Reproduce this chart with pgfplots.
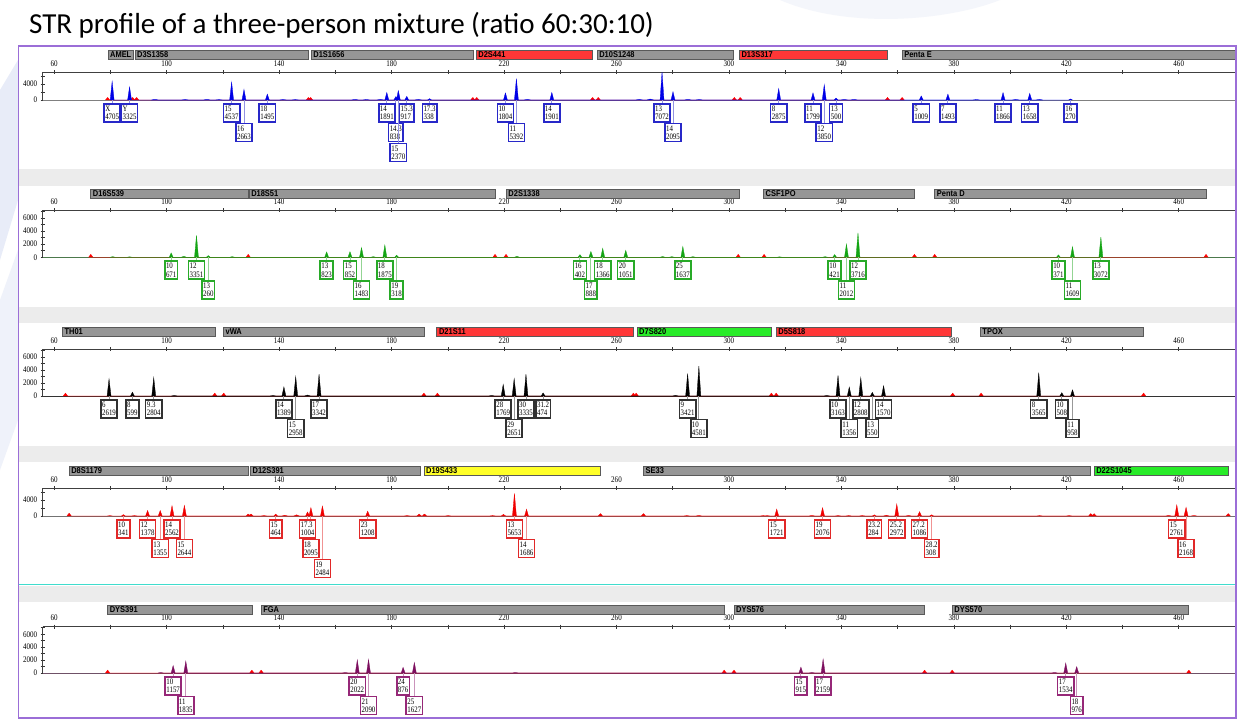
\documentclass[border=0pt]{standalone}
\usepackage{fontspec}
\usepackage{pgfplots}
\pgfplotsset{compat=1.18}
\setmainfont{Liberation Serif}
\newfontfamily\titlefont{Carlito}
\newfontfamily\smallfont{Liberation Serif}[FakeStretch=0.82]
\newfontfamily\locusfont{Liberation Sans}[FakeStretch=0.88]

\definecolor{framec}{RGB}{155,110,215}
\definecolor{stripc}{RGB}{236,236,236}
\definecolor{decoc}{RGB}{232,236,248}
\definecolor{barg}{RGB}{150,150,150}
\definecolor{barr}{RGB}{255,55,55}
\definecolor{bargr}{RGB}{40,235,40}
\definecolor{bary}{RGB}{255,255,40}
\definecolor{dblue}{RGB}{0,0,230}
\definecolor{bblue}{RGB}{40,40,200}
\definecolor{dgreen}{RGB}{20,165,20}
\definecolor{bgreen}{RGB}{40,170,40}
\definecolor{dblack}{RGB}{0,0,0}
\definecolor{bblack}{RGB}{50,50,50}
\definecolor{dred}{RGB}{240,0,0}
\definecolor{bred}{RGB}{225,40,40}
\definecolor{dpurp}{RGB}{125,15,95}
\definecolor{bpurp}{RGB}{150,40,120}
\definecolor{sizered}{RGB}{255,0,0}
\definecolor{turq}{RGB}{64,220,205}
\colorlet{bc}{bblue}

\def\bartop{0}\def\barbot{0}\def\barmid{0}
% locus bar: from, to, name, fill
\newcommand{\locus}[4]{%
  \draw[fill=#4, draw=black!65, line width=0.8pt]
    ([yshift=\bartop pt]axis cs:#1,0) rectangle ([yshift=\barbot pt]axis cs:#2,0);
  \node[anchor=west, inner sep=0pt, font=\locusfont\bfseries\fontsize{8.5}{8.5}\selectfont]
    at ([yshift=\barmid pt, xshift=2pt]axis cs:#1,0) {#3};
}
% allele label: x, drop below baseline, allele, height
\newcommand{\lb}[4]{%
  \draw[bc!50!white, line width=0.9pt] (axis cs:#1,0) -- ([yshift=-#2 pt]axis cs:#1,0);
  \node[lbox, anchor=north] at ([yshift=-#2 pt]axis cs:#1,0) {#3\\#4};
}
\tikzset{lbox/.style={draw=bc, fill=white, line width=1.6pt, inner xsep=1.2pt,
  inner ysep=1pt, align=left, minimum height=18pt,
  font=\smallfont\fontsize{8.4}{8.4}\selectfont}}

\pgfplotsset{ep/.style={
  scale only axis, width=1192.3pt, xmin=55.9, xmax=480, ymin=0,
  anchor=south west,
  axis x line=top, axis y line=left,
  axis line style={-, draw=black!75, line width=0.6pt},
  xtick={60,100,...,460}, minor xtick={80,120,...,480},
  tick align=center, major tick length=4pt, minor tick length=4pt,
  tick style={black!80, line width=0.6pt},
  ticklabel style={font=\smallfont\fontsize{8.6}{8.6}\selectfont},
  /pgf/number format/assume math mode=true,
  /pgf/number format/1000 sep={},
  scaled ticks=false, clip=false,
}}

\begin{document}
\begin{tikzpicture}
\path[use as bounding box] (0pt,0pt) rectangle (1252pt,-720pt);
\fill[white] (0pt,0pt) rectangle (1252pt,-720pt);
% faint slide decoration
\fill[decoc] (0pt,-90pt) -- (18pt,-60pt) -- (18pt,-200pt) -- (0pt,-260pt) -- cycle;
\fill[decoc!70!white] (0pt,-300pt) -- (18pt,-250pt) -- (18pt,-420pt) -- (0pt,-470pt) -- cycle;
\fill[decoc!50!white] (780pt,0pt) .. controls (850pt,-30pt) and (950pt,-20pt) .. (1000pt,0pt) -- cycle;

\node[anchor=base west, inner sep=0pt, font=\titlefont\fontsize{29}{29}\selectfont]
  at (29pt,-33pt) {STR profile of a three-person mixture (ratio 60:30:10)};

\fill[white] (18.3pt,-45.9pt) rectangle (1236pt,-718pt);
\fill[stripc] (18.3pt,-168.8pt) rectangle (1236pt,-185.8pt);
\fill[stripc] (18.3pt,-307.3pt) rectangle (1236pt,-323.4pt);
\fill[stripc] (18.3pt,-445.9pt) rectangle (1236pt,-462.4pt);
\fill[stripc] (18.3pt,-585.8pt) rectangle (1236pt,-601.8pt);
\draw[turq, line width=1pt] (18.3pt,-584.9pt) -- (1236pt,-584.9pt);

% ---------------- panel 1: blue ----------------
\colorlet{bc}{bblue}
\def\bartop{50}\def\barbot{41}\def\barmid{45.5}
\begin{axis}[ep, at={(42.7pt,-100pt)}, height=27.7pt, ymax=7000,
  ytick={0,4000}, minor ytick={2000,6000}]
\draw[black!50, line width=1pt] (axis cs:55.9,0) -- (axis cs:480,0);
\addplot[draw=sizered, fill=sizered, line width=0.3pt] coordinates {
(78.2,0)(79.0,650)(79.8,0)(87.1,0)(87.9,650)(88.7,0)(88.5,0)(89.3,650)(90.1,0)
(149.6,0)(150.4,650)(151.2,0)(150.4,0)(151.2,650)(152.0,0)
(208.1,0)(208.9,650)(209.7,0)(209.5,0)(210.3,650)(211.1,0)
(250.7,0)(251.5,650)(252.3,0)(252.7,0)(253.5,650)(254.3,0)
(301.1,0)(301.9,650)(302.7,0)(303.2,0)(304.0,650)(304.8,0)
(355.6,0)(356.4,650)(357.2,0)(360.8,0)(361.6,650)(362.4,0)};
\addplot[draw=dblue, fill=dblue, line width=0.3pt] coordinates {
(94.6,0)(95.8,150)(97.0,0)(105.3,0)(106.5,120)(107.7,0)(113.1,0)(114.3,150)(115.5,0)
(117.4,0)(118.6,100)(119.8,0)(140.2,0)(141.4,120)(142.6,0)(144.5,0)(145.7,100)(146.9,0)
(165.8,0)(167.0,150)(168.2,0)(169.8,0)(171.0,120)(172.2,0)(174.8,0)(176.0,150)(177.2,0)
(188.3,0)(189.5,150)(190.7,0)(227.1,0)(228.3,150)(229.5,0)(266.9,0)(268.1,150)(269.3,0)
(270.8,0)(272.0,250)(273.2,0)(284.2,0)(285.4,150)(286.6,0)(288.2,0)(289.4,120)(290.6,0)
(339.8,0)(341.0,150)(342.2,0)(343.3,0)(344.5,150)(345.7,0)(386.8,0)(388.0,120)(389.2,0)
(400.8,0)(402.0,150)(403.2,0)(409.2,0)(410.4,150)(411.6,0)};
\addplot[draw=dblue, fill=dblue, line width=0.3pt] coordinates {
(79.9,0)(80.6,4705)(81.3,0)(86.1,0)(86.8,3325)(87.5,0)
(122.4,0)(123.1,4537)(123.8,0)(126.8,0)(127.5,2663)(128.2,0)(135.1,0)(135.8,1495)(136.5,0)
(177.6,0)(178.3,1891)(179.0,0)(180.8,0)(181.5,838)(182.2,0)(181.7,0)(182.4,2370)(183.1,0)
(184.7,0)(185.4,917)(186.1,0)(192.8,0)(193.5,338)(194.2,0)
(219.8,0)(220.5,1804)(221.2,0)(223.7,0)(224.4,5392)(225.1,0)(236.3,0)(237.0,1901)(237.7,0)
(275.5,0)(276.2,7072)(276.9,0)(279.4,0)(280.1,2095)(280.8,0)
(317.0,0)(317.7,2875)(318.4,0)(329.2,0)(329.9,1799)(330.6,0)(333.2,0)(333.9,3850)(334.6,0)
(337.4,0)(338.1,500)(338.8,0)
(367.7,0)(368.4,1009)(369.1,0)(377.2,0)(377.9,1493)(378.6,0)(396.8,0)(397.5,1866)(398.2,0)
(406.3,0)(407.0,1658)(407.7,0)(420.8,0)(421.5,270)(422.2,0)};
\locus{79.1}{88.0}{AMEL}{barg}
\locus{88.7}{150.3}{D3S1358}{barg}
\locus{151.4}{209.0}{D1S1656}{barg}
\locus{210.1}{251.4}{D2S441}{barr}
\locus{253.1}{301.5}{D10S1248}{barg}
\locus{303.7}{356.4}{D13S317}{barr}
\locus{361.6}{480}{Penta E}{barg}
\lb{127.5}{22.7}{16}{2663}
\lb{181.5}{22.7}{14.3}{838}
\lb{182.4}{42.7}{15}{2370}
\lb{224.4}{22.7}{11}{5392}
\lb{280.1}{22.7}{14}{2095}
\lb{333.9}{22.7}{12}{3850}
\lb{80.6}{3}{X}{4705}
\lb{86.8}{3}{Y}{3325}
\lb{123.1}{3}{15}{4537}
\lb{135.8}{3}{18}{1495}
\lb{178.3}{3}{14}{1891}
\lb{185.4}{3}{15.3}{917}
\lb{193.5}{3}{17.3}{338}
\lb{220.5}{3}{10}{1804}
\lb{237.0}{3}{14}{1901}
\lb{276.2}{3}{13}{7072}
\lb{317.7}{3}{8}{2875}
\lb{329.9}{3}{11}{1799}
\lb{338.1}{3}{13}{500}
\lb{368.4}{3}{5}{1009}
\lb{377.9}{3}{7}{1493}
\lb{397.5}{3}{11}{1866}
\lb{407.0}{3}{13}{1658}
\lb{421.5}{3}{16}{270}
\end{axis}

% ---------------- panel 2: green ----------------
\colorlet{bc}{bgreen}
\def\bartop{68.3}\def\barbot{59.3}\def\barmid{63.8}
\begin{axis}[ep, at={(42.7pt,-257.3pt)}, height=47.3pt, ymax=7200,
  ytick={0,2000,4000,6000}, minor ytick={1000,3000,5000,7000}]
\draw[green!25!black!70, line width=1pt] (axis cs:55.9,0) -- (axis cs:480,0);
\addplot[draw=sizered, fill=sizered, line width=0.3pt] coordinates {
(72.2,0)(73.0,450)(73.8,0)(128.2,0)(129.0,450)(129.8,0)(216.0,0)(216.8,450)(217.6,0)
(219.9,0)(220.7,450)(221.5,0)(302.5,0)(303.3,450)(304.1,0)(311.7,0)(312.5,450)(313.3,0)
(365.2,0)(366.0,450)(366.8,0)(372.4,0)(373.2,450)(374.0,0)(468.9,0)(469.7,450)(470.5,0)};
\addplot[draw=dgreen, fill=dgreen, line width=0.3pt] coordinates {
(79.8,0)(80.8,100)(81.8,0)(85.8,0)(86.8,80)(87.8,0)(105.1,0)(106.1,150)(107.1,0)
(122.3,0)(123.3,100)(124.3,0)(172.5,0)(173.5,100)(174.5,0)(223.6,0)(224.6,150)(225.6,0)
(275.4,0)(276.4,120)(277.4,0)(278.7,0)(279.7,100)(280.7,0)(286.2,0)(287.2,100)(288.2,0)
(317.0,0)(318.0,80)(319.0,0)(333.2,0)(334.2,100)(335.2,0)};
\addplot[draw=dgreen, fill=dgreen, line width=0.3pt] coordinates {
(100.9,0)(101.6,671)(102.3,0)(109.9,0)(110.6,3351)(111.3,0)(114.1,0)(114.8,260)(115.5,0)
(156.2,0)(156.9,823)(157.6,0)(164.5,0)(165.2,852)(165.9,0)(168.6,0)(169.3,1483)(170.0,0)
(176.9,0)(177.6,1875)(178.3,0)(181.1,0)(181.8,318)(182.5,0)
(246.3,0)(247.0,402)(247.7,0)(250.2,0)(250.9,888)(251.6,0)(254.4,0)(255.1,1366)(255.8,0)
(262.6,0)(263.3,1051)(264.0,0)(282.9,0)(283.6,1637)(284.3,0)
(336.9,0)(337.6,421)(338.3,0)(341.1,0)(341.8,2012)(342.5,0)(345.2,0)(345.9,3716)(346.6,0)
(416.5,0)(417.2,371)(417.9,0)(421.5,0)(422.2,1609)(422.9,0)(431.6,0)(432.3,3072)(433.0,0)};
\locus{73.0}{129.0}{D16S539}{barg}
\locus{129.3}{216.9}{D18S51}{barg}
\locus{220.8}{303.6}{D2S1338}{barg}
\locus{312.3}{366.1}{CSF1PO}{barg}
\locus{373.2}{470.0}{Penta D}{barg}
\lb{114.8}{22.7}{13}{260}
\lb{169.3}{22.7}{16}{1483}
\lb{181.8}{22.7}{19}{318}
\lb{250.9}{22.7}{17}{888}
\lb{341.8}{22.7}{11}{2012}
\lb{422.2}{22.7}{11}{1609}
\lb{101.6}{3}{10}{671}
\lb{110.6}{3}{12}{3351}
\lb{156.9}{3}{13}{823}
\lb{165.2}{3}{15}{852}
\lb{177.6}{3}{18}{1875}
\lb{247.0}{3}{16}{402}
\lb{255.1}{3}{18}{1366}
\lb{263.3}{3}{20}{1051}
\lb{283.6}{3}{25}{1637}
\lb{337.6}{3}{10}{421}
\lb{345.9}{3}{12}{3716}
\lb{417.2}{3}{10}{371}
\lb{432.3}{3}{13}{3072}
\end{axis}

% ---------------- panel 3: black ----------------
\colorlet{bc}{bblack}
\def\bartop{68.5}\def\barbot{59.5}\def\barmid{64}
\begin{axis}[ep, at={(42.7pt,-396pt)}, height=47pt, ymax=7200,
  ytick={0,2000,4000,6000}, minor ytick={1000,3000,5000,7000}]
\draw[black!80, line width=1pt] (axis cs:55.9,0) -- (axis cs:480,0);
\addplot[draw=sizered, fill=sizered, line width=0.3pt] coordinates {
(63.2,0)(64.0,450)(64.8,0)(116.3,0)(117.1,450)(117.9,0)(119.5,0)(120.3,450)(121.1,0)
(190.7,0)(191.5,450)(192.3,0)(195.5,0)(196.3,450)(197.1,0)(265.2,0)(266.0,450)(266.8,0)
(266.2,0)(267.0,450)(267.8,0)(314.3,0)(315.1,450)(315.9,0)(316.0,0)(316.8,450)(317.6,0)
(378.8,0)(379.6,450)(380.4,0)(388.9,0)(389.7,450)(390.5,0)(446.7,0)(447.5,450)(448.3,0)};
\addplot[draw=dblack, fill=dblack, line width=0.3pt] coordinates {
(101.7,0)(102.7,80)(103.7,0)(136.8,0)(137.8,80)(138.8,0)(149.1,0)(150.1,150)(151.1,0)
(214.6,0)(215.6,80)(216.6,0)(280.0,0)(281.0,100)(282.0,0)(333.8,0)(334.8,80)(335.8,0)};
\addplot[draw=dblack, fill=dblack, line width=0.3pt] coordinates {
(78.8,0)(79.5,2619)(80.2,0)(87.1,0)(87.8,599)(88.5,0)(94.7,0)(95.4,2804)(96.1,0)
(141.0,0)(141.7,1389)(142.4,0)(145.2,0)(145.9,2958)(146.6,0)(153.5,0)(154.2,3342)(154.9,0)
(219.0,0)(219.7,1769)(220.4,0)(222.9,0)(223.6,2651)(224.3,0)(227.1,0)(227.8,3335)(228.5,0)
(233.2,0)(233.9,474)(234.6,0)
(284.6,0)(285.3,3421)(286.0,0)(288.6,0)(289.3,4581)(290.0,0)
(338.1,0)(338.8,3163)(339.5,0)(342.1,0)(342.8,1356)(343.5,0)(346.2,0)(346.9,2808)(347.6,0)
(350.3,0)(351.0,550)(351.7,0)(354.3,0)(355.0,1570)(355.7,0)
(409.5,0)(410.2,3565)(410.9,0)(417.7,0)(418.4,508)(419.1,0)(421.5,0)(422.2,958)(422.9,0)};
\locus{62.9}{117.2}{TH01}{barg}
\locus{120.2}{191.5}{vWA}{barg}
\locus{196.1}{266.0}{D21S11}{barr}
\locus{267.3}{315.1}{D7S820}{bargr}
\locus{316.8}{379.3}{D5S818}{barr}
\locus{389.4}{447.5}{TPOX}{barg}
\lb{145.9}{22.7}{15}{2958}
\lb{223.6}{22.7}{29}{2651}
\lb{289.3}{22.7}{10}{4581}
\lb{342.8}{22.7}{11}{1356}
\lb{351.0}{22.7}{13}{550}
\lb{422.2}{22.7}{11}{958}
\lb{79.5}{3}{6}{2619}
\lb{87.8}{3}{8}{599}
\lb{95.4}{3}{9.3}{2804}
\lb{141.7}{3}{14}{1389}
\lb{154.2}{3}{17}{3342}
\lb{219.7}{3}{28}{1769}
\lb{227.8}{3}{30}{3335}
\lb{233.9}{3}{31.2}{474}
\lb{285.3}{3}{9}{3421}
\lb{338.8}{3}{10}{3163}
\lb{346.9}{3}{12}{2808}
\lb{355.0}{3}{14}{1570}
\lb{410.2}{3}{8}{3565}
\lb{418.4}{3}{10}{508}
\end{axis}

% ---------------- panel 4: red ----------------
\colorlet{bc}{bred}
\def\bartop{49.5}\def\barbot{40.5}\def\barmid{45}
\begin{axis}[ep, at={(42.7pt,-516pt)}, height=28pt, ymax=7000,
  ytick={0,4000}, minor ytick={2000,6000}]
\draw[black!55, line width=1pt] (axis cs:55.9,0) -- (axis cs:480,0);
\addplot[draw=dred, fill=dred, line width=0.3pt] coordinates {
(64.5,0)(65.3,700)(66.1,0)(78.8,0)(79.8,100)(80.8,0)(87.5,0)(88.5,100)(89.5,0)
(128.2,0)(129.0,500)(129.8,0)(129.2,0)(130.0,500)(130.8,0)(133.6,0)(134.6,100)(135.6,0)
(141.0,0)(142.0,200)(143.0,0)(145.2,0)(146.2,300)(147.2,0)(184.5,0)(185.5,100)(186.5,0)
(189.0,0)(189.8,500)(190.6,0)(190.9,0)(191.7,500)(192.5,0)(199.1,0)(200.1,100)(201.1,0)
(214.9,0)(215.9,100)(216.9,0)(219.0,0)(219.8,400)(220.6,0)(253.5,0)(254.3,600)(255.1,0)
(268.8,0)(269.6,600)(270.4,0)(284.0,0)(285.0,100)(286.0,0)(288.3,0)(289.3,150)(290.3,0)
(311.2,0)(312.2,100)(313.2,0)(312.6,0)(313.6,100)(314.6,0)(328.5,0)(329.5,150)(330.5,0)
(337.8,0)(338.8,100)(339.8,0)(341.6,0)(342.6,100)(343.6,0)(346.4,0)(347.4,100)(348.4,0)
(355.0,0)(356.0,200)(357.0,0)(362.9,0)(363.9,150)(364.9,0)(409.5,0)(410.5,100)(411.5,0)
(420.0,0)(421.0,100)(422.0,0)(427.9,0)(428.7,600)(429.5,0)(429.1,0)(429.9,600)(430.7,0)
(455.4,0)(456.4,150)(457.4,0)(464.4,0)(465.4,150)(466.4,0)(476.8,0)(477.6,600)(478.4,0)};
\addplot[draw=dred, fill=dred, line width=0.3pt] coordinates {
(83.9,0)(84.6,341)(85.3,0)(92.5,0)(93.2,1378)(93.9,0)(97.0,0)(97.7,1355)(98.4,0)
(101.2,0)(101.9,2562)(102.6,0)(105.6,0)(106.3,2644)(107.0,0)
(138.1,0)(138.8,464)(139.5,0)(149.4,0)(150.1,1004)(150.8,0)(150.6,0)(151.3,2095)(152.0,0)
(154.7,0)(155.4,2484)(156.1,0)(170.8,0)(171.5,1208)(172.2,0)
(223.0,0)(223.7,5653)(224.4,0)(227.3,0)(228.0,1686)(228.7,0)
(316.3,0)(317.0,1721)(317.7,0)(332.6,0)(333.3,2076)(334.0,0)(351.0,0)(351.7,284)(352.4,0)
(359.0,0)(359.7,2972)(360.4,0)(367.1,0)(367.8,1086)(368.5,0)(371.4,0)(372.1,308)(372.8,0)
(458.6,0)(459.3,2761)(460.0,0)(461.9,0)(462.6,2168)(463.3,0)};
\locus{65.3}{129.0}{D8S1179}{barg}
\locus{129.8}{190.2}{D12S391}{barg}
\locus{191.5}{254.3}{D19S433}{bary}
\locus{269.6}{428.7}{SE33}{barg}
\locus{429.9}{477.6}{D22S1045}{bargr}
\lb{97.7}{22.7}{13}{1355}
\lb{106.3}{22.7}{15}{2644}
\lb{151.3}{22.7}{18}{2095}
\lb{155.4}{42.7}{19}{2484}
\lb{228.0}{22.7}{14}{1686}
\lb{372.1}{22.7}{28.2}{308}
\lb{462.6}{22.7}{16}{2168}
\lb{84.6}{3}{10}{341}
\lb{93.2}{3}{12}{1378}
\lb{101.9}{3}{14}{2562}
\lb{138.8}{3}{15}{464}
\lb{150.1}{3}{17.3}{1004}
\lb{171.5}{3}{23}{1208}
\lb{223.7}{3}{13}{5653}
\lb{317.0}{3}{15}{1721}
\lb{333.3}{3}{19}{2076}
\lb{351.7}{3}{23.2}{284}
\lb{359.7}{3}{25.2}{2972}
\lb{367.8}{3}{27.2}{1086}
\lb{459.3}{3}{15}{2761}
\end{axis}

% ---------------- panel 5: purple ----------------
\colorlet{bc}{bpurp}
\def\bartop{68}\def\barbot{59}\def\barmid{63.5}
\begin{axis}[ep, at={(42.7pt,-673pt)}, height=46.5pt, ymax=7200,
  ytick={0,2000,4000,6000}, minor ytick={1000,3000,5000,7000}]
\draw[dpurp!40!black!70, line width=1pt] (axis cs:55.9,0) -- (axis cs:480,0);
\addplot[draw=sizered, fill=sizered, line width=0.3pt] coordinates {
(78.2,0)(79.0,450)(79.8,0)(129.5,0)(130.3,450)(131.1,0)(132.8,0)(133.6,450)(134.4,0)
(297.5,0)(298.3,450)(299.1,0)(301.0,0)(301.8,450)(302.6,0)(368.8,0)(369.6,450)(370.4,0)
(378.6,0)(379.4,450)(380.2,0)(462.8,0)(463.6,450)(464.4,0)};
\addplot[draw=dpurp, fill=dpurp, line width=0.3pt] coordinates {
(96.9,0)(97.9,80)(98.9,0)(162.5,0)(163.5,80)(164.5,0)(223.0,0)(224.0,80)(225.0,0)
(328.5,0)(329.5,80)(330.5,0)(414.8,0)(415.8,80)(416.8,0)};
\addplot[draw=dpurp, fill=dpurp, line width=0.3pt] coordinates {
(101.6,0)(102.3,1157)(103.0,0)(106.1,0)(106.8,1835)(107.5,0)
(167.1,0)(167.8,2022)(168.5,0)(171.1,0)(171.8,2090)(172.5,0)
(183.4,0)(184.1,876)(184.8,0)(187.4,0)(188.1,1627)(188.8,0)
(324.9,0)(325.6,915)(326.3,0)(332.8,0)(333.5,2159)(334.2,0)
(419.1,0)(419.8,1534)(420.5,0)(423.0,0)(423.7,976)(424.4,0)};
\locus{79.0}{130.4}{DYS391}{barg}
\locus{133.6}{298.3}{FGA}{barg}
\locus{301.8}{369.6}{DYS576}{barg}
\locus{379.4}{463.6}{DYS570}{barg}
\lb{106.8}{22.7}{11}{1835}
\lb{171.8}{22.7}{21}{2090}
\lb{188.1}{22.7}{25}{1627}
\lb{423.7}{22.7}{18}{976}
\lb{102.3}{3}{10}{1157}
\lb{167.8}{3}{20}{2022}
\lb{184.1}{3}{24}{876}
\lb{325.6}{3}{15}{915}
\lb{333.5}{3}{17}{2159}
\lb{419.8}{3}{17}{1534}
\end{axis}

\draw[framec, line width=1.4pt] (18.3pt,-45.9pt) rectangle (1236pt,-718pt);
\end{tikzpicture}
\end{document}
